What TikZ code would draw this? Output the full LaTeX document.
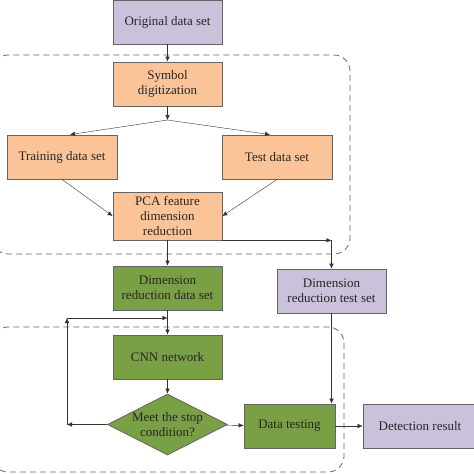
\documentclass[tikz,border=0pt]{standalone}
\usepackage{fontspec}
\setmainfont{Liberation Serif}
\usetikzlibrary{arrows.meta,shapes.geometric}
\definecolor{lilac}{RGB}{204,193,218}
\definecolor{peach}{RGB}{250,196,152}
\definecolor{leaf}{RGB}{122,160,70}
\definecolor{rim}{RGB}{100,100,100}
\tikzset{every node/.style={rectangle,draw=rim,thick,minimum width=109pt,minimum height=44pt,inner sep=1pt,align=center,text=black!85}}
\tikzset{lil/.style={fill=lilac}}
\tikzset{pch/.style={fill=peach}}
\tikzset{grn/.style={fill=leaf}}
\tikzset{arr/.style={-{Latex[length=5pt,width=4.5pt]},thin,black!80}}
\tikzset{group/.style={draw=black!60,thick,dash pattern=on 6pt off 4pt,rounded corners=16pt}}

\begin{document}
\begin{tikzpicture}[x=1pt,y=-1pt,font=\fontsize{13}{15}\selectfont]
      \useasboundingbox (0,0) rectangle (474,474);
      \draw[group] (-8,55) rectangle (350,254);
      \draw[group] (-8,327) rectangle (344,472);
      \node[lil] (orig) at (167.5,22) {Original data set};
      \node[pch] (sym) at (167.5,84) {Symbol\\digitization};
      \node[pch,minimum width=110pt] (train) at (62,157) {Training data set};
      \node[pch,minimum width=110pt] (test) at (277,157) {Test data set};
      \node[pch,minimum height=48pt] (pca) at (167.5,216) {PCA feature\\dimension\\reduction};
      \node[grn] (dimdata) at (167.5,288) {Dimension\\reduction data set};
      \node[lil] (dimtest) at (331.5,291) {Dimension\\reduction test set};
      \node[grn] (cnn) at (167.5,357) {CNN network};
      \node[grn,diamond,shape aspect=2,minimum width=120pt,minimum height=61pt,inner sep=0pt] (stop) at (167.5,424.5) {Meet the stop\\condition?};
      \node[grn,minimum width=91pt] (dtest) at (289.5,426) {Data testing};
      \node[lil,minimum width=114pt] (detect) at (420,426) {Detection result};
      \coordinate (split) at (167.5,120);
      \coordinate (bend) at (dimtest.north |- pca.south east);
      \coordinate (lpa) at (67,424.5);
      \coordinate (lpb) at (67,318);
      \coordinate (lpc) at (167.5,318);
      \draw[arr] (orig) -- (sym);
      \draw[arr] (sym) -- (split);
      \draw[arr] (split) -- ([xshift=8pt]train.north);
      \draw[arr] (split) -- ([xshift=-7pt]test.north);
      \draw[arr] (train.south) -- (pca.west);
      \draw[arr] (test.south) -- (pca.east);
      \draw[arr] (pca) -- (dimdata);
      \draw[arr] (pca.south east) -- (bend);
      \draw[arr] (bend) -- (dimtest.north);
      \foreach \a/\b in {dimdata/cnn,cnn/stop,stop/dtest,dtest/detect}
        \draw[arr] (\a) -- (\b);
      \draw[arr] (dimtest.south) -- (dimtest.south |- dtest.north);
      \draw[arr] (stop.west) -- (lpa);
      \draw[arr] (lpa) -- (lpb);
      \draw[arr] (lpb) -- (lpc);
    \end{tikzpicture}
\end{document}
